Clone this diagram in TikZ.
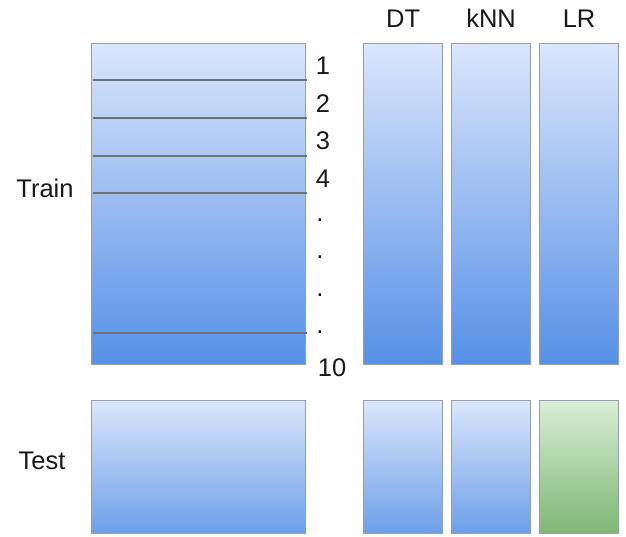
\documentclass[tikz,border=0pt]{standalone}
\usepackage{fontspec}
\setmainfont{Liberation Sans}
\usepackage{tikz}
\usetikzlibrary{positioning}

\definecolor{boxedge}{HTML}{9A9EA6}
\definecolor{bluetop}{HTML}{DAE6FB}
\definecolor{bluebot}{HTML}{5690E6}
\definecolor{testbot}{HTML}{6C9FE8}
\definecolor{greentop}{HTML}{D9EED6}
\definecolor{greenbot}{HTML}{7DB774}
\definecolor{foldline}{HTML}{6E7278}

\begin{document}
\begin{tikzpicture}[x=1pt,y=-1pt,
every node/.style={font=\fontsize{25.5}{30}\selectfont,text=black!90},
databox/.style={draw=boxedge,line width=1.2pt,anchor=north west,inner sep=0pt,
  top color=bluetop,bottom color=bluebot},
testbox/.style={databox,minimum height=133pt,bottom color=testbot},
colbox/.style={databox,minimum width=79pt,minimum height=321pt},
fold/.style={draw=foldline,line width=1.1pt}]
\useasboundingbox (0,0) rectangle (626,537);
% train and test data
\node[databox,minimum width=214pt,minimum height=321pt] (train) at (91,43) {};
\node[testbox,minimum width=214pt] (test) at (91,400) {};
\node (trainlbl) at (45,188) {Train};
\node (testlbl) at (42,461) {Test};
% folds
\foreach \y in {80,118,156,193,333}
  \draw[fold] (93,\y) -- (307,\y);
\foreach \n/\y in {1/66,2/104,3/141,4/179}
  \node (fold\n) at (323,\y) {\n};
\foreach \y in {220,257,295,332}
  \node (dot\y) at (320,\y) {.};
\node (fold10) at (332,368) {10};
% models
\node[colbox] (dt) at (363,43) {};
\node[colbox] (knn) at (451,43) {};
\node[colbox] (lr) at (539,43) {};
\node[testbox,minimum width=79pt] (dttest) at (363,400) {};
\node[testbox,minimum width=79pt] (knntest) at (451,400) {};
\node[testbox,minimum width=79pt,top color=greentop,bottom color=greenbot] (lrtest) at (539,400) {};
\node[above=12pt of dt] (dtlbl) {DT};
\node[above=12pt of knn] (knnlbl) {kNN};
\node[above=12pt of lr] (lrlbl) {LR};
\end{tikzpicture}
\end{document}
